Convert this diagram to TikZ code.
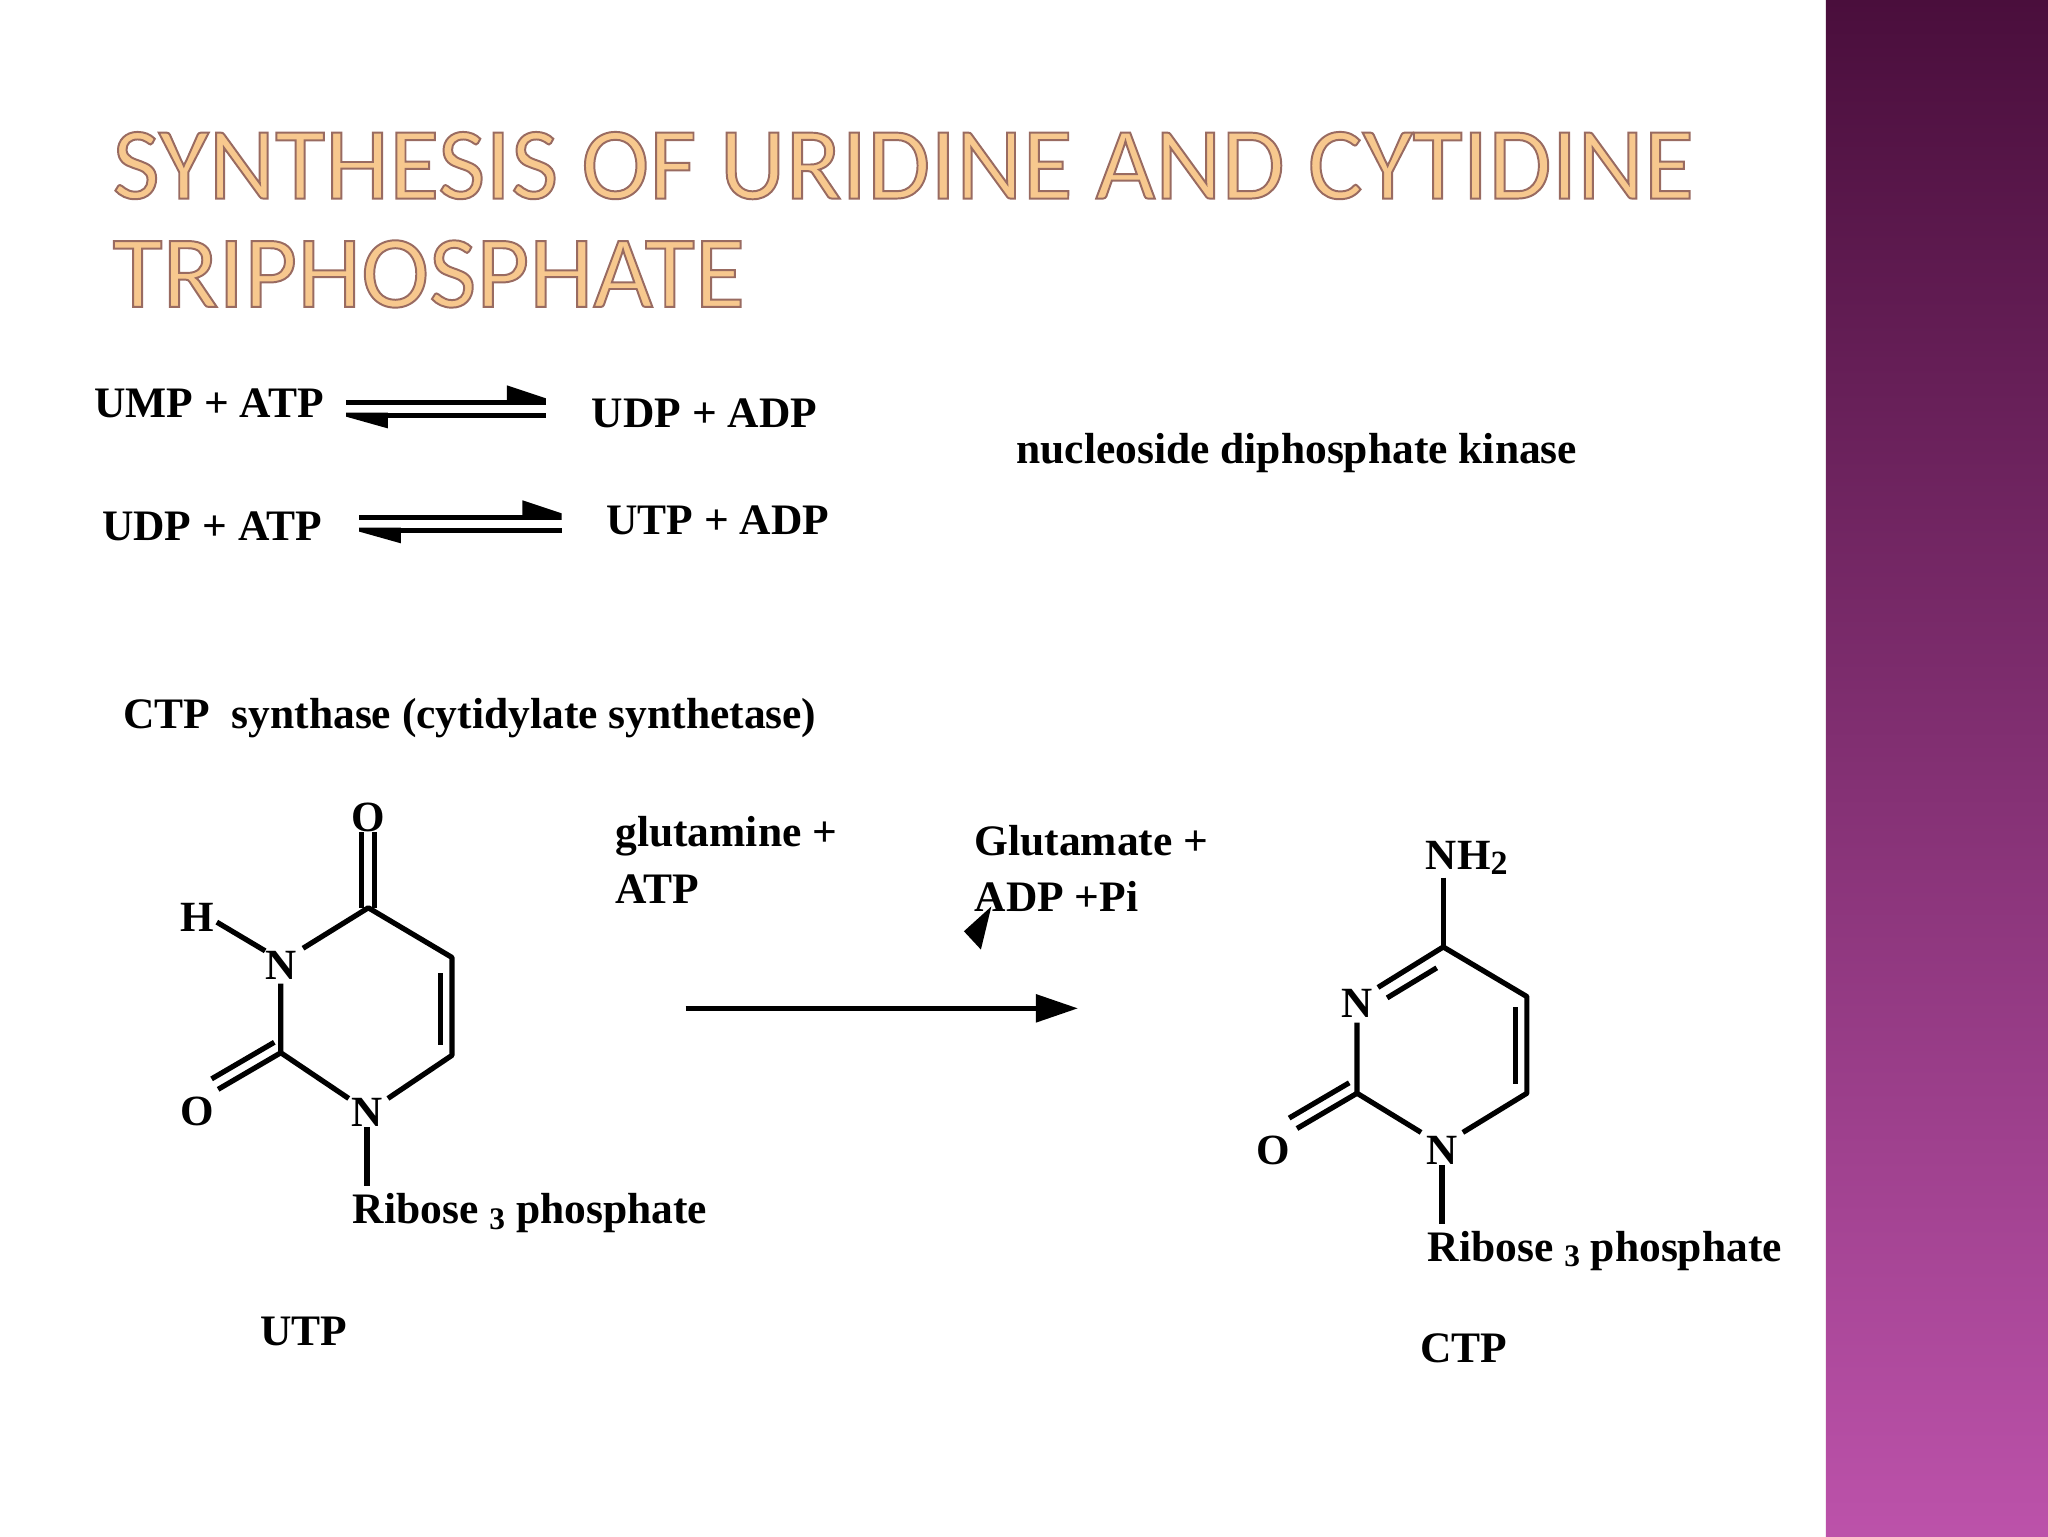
\documentclass[tikz,border=0pt]{standalone}
\usepackage{fontspec}
\usetikzlibrary{calc}
\setmainfont{Liberation Serif}
\newfontfamily\titlefont{Carlito}
\definecolor{peach}{HTML}{F7C88E}
\definecolor{outl}{HTML}{9A6A60}
\definecolor{bartop}{HTML}{4A0E3C}
\definecolor{barbot}{HTML}{BC52AA}
\newcommand{\outlined}[1]{\special{pdf:literal direct 2 Tr 1.5 w 0.60 0.42 0.38 RG}#1\special{pdf:literal direct 0 Tr}}
\begin{document}
\begin{tikzpicture}[x=1pt,y=-1pt,
  lbl/.style={anchor=base west,inner sep=0pt,font=\fontsize{33.3}{40}\selectfont\bfseries},
  atom/.style={inner sep=0pt,font=\fontsize{33}{40}\selectfont\bfseries},
  ttl/.style={anchor=base west,inner sep=0pt,text=peach,font=\fontsize{78.6}{90}\selectfont\titlefont},
  bond/.style={line width=4pt},
  halfarrow/.style={line width=3.5pt}]
\useasboundingbox (0,0) rectangle (1568,1176);
\fill[white] (0,0) rectangle (1398,1176);
\shade[top color=bartop,bottom color=barbot] (1398,0) rectangle (1568,1176);
% title
\node[ttl] (t1) at (86,152) {\outlined{SYNTHESIS OF URIDINE AND CYTIDINE}};
\node[ttl] (t2) at (86,235) {\outlined{TRIPHOSPHATE}};
% equilibria
\node[lbl] (r1a) at (72,320) {UMP + ATP};
\node[lbl] (r1b) at (453,327) {UDP + ADP};
\node[lbl] (enz) at (778,355) {nucleoside diphosphate kinase};
\node[lbl] (r2a) at (78,414) {UDP + ATP};
\node[lbl] (r2b) at (464,409) {UTP + ADP};
\coordinate (a1s) at (265,308); \coordinate (a1e) at (395,308);
\coordinate (b1s) at (290,318); \coordinate (b1e) at (418,318);
\draw[halfarrow] (a1s) -- (a1e);
\fill (388,295) -- (418,305) -- (418,310) -- (388,310) -- cycle;
\draw[halfarrow] (b1e) -- (b1s);
\fill (297,328) -- (265,319) -- (265,316) -- (297,316) -- cycle;
\coordinate (a2s) at (275,396); \coordinate (a2e) at (405,396);
\coordinate (b2s) at (300,406); \coordinate (b2e) at (430,406);
\draw[halfarrow] (a2s) -- (a2e);
\fill (400,383) -- (430,393) -- (430,398) -- (400,398) -- cycle;
\draw[halfarrow] (b2e) -- (b2s);
\fill (307,416) -- (275,407) -- (275,404) -- (307,404) -- cycle;
% CTP synthase
\node[lbl] (syn) at (94,558) {CTP\ \ synthase (cytidylate synthetase)};
\node[lbl] (glnA) at (471,648) {glutamine +};
\node[lbl] (glnB) at (471,692) {ATP};
\node[lbl] (gluA) at (746,655) {Glutamate +};
\node[lbl] (gluB) at (746,698) {ADP +Pi};
\fill (759,694) -- (738,713) -- (751,727) -- cycle;
\coordinate (ms) at (525,772); \coordinate (me) at (825,772);
\draw[line width=4pt] (ms) -- (795,772);
\fill (793,761) -- (me) -- (793,783) -- cycle;
% UTP ring
\node[atom] (uO4) at (282,626) {O};
\node[atom] (uH) at (151,702) {H};
\node[atom] (uN3) at (215,739) {N};
\node[atom] (uO2) at (151,851) {O};
\node[atom] (uN1) at (281,852) {N};
\coordinate (uC4) at (282,695);
\coordinate (uC5) at (346,733);
\coordinate (uC6) at (346,808);
\coordinate (uC2) at (215,806);
\coordinate (uR) at (281,908);
\draw[bond] ($(uO4.south)+(-5,0)$) -- ($(uC4)+(-5,0)$);
\draw[bond] ($(uO4.south)+(5,0)$) -- ($(uC4)+(5,0)$);
\draw[bond,line join=round] ($(uN3)+(17,-13)$) -- (uC4) -- (uC5) -- (uC6) -- ($(uN1)+(16,-11)$);
\draw[bond] (337,745) -- (337,800);
\draw[bond,line join=round] ($(uN1)+(-14,-11)$) -- (uC2) -- ($(uN3)+(0,14)$);
\draw[bond] ($(uH)+(15,4)$) -- ($(uN3)+(-12,-11)$);
\draw[bond] (uC2) -- (167,834);
\draw[bond] (210,798) -- (162,826);
\draw[bond] (uN1.south) -- (uR);
\node[lbl] (uRib) at (270,937) {Ribose {\fontsize{24}{28}\selectfont\raisebox{-4pt}{3}} phosphate};
\node[lbl] (uName) at (199,1030) {UTP};
% CTP ring
\node[atom] (cNH) at (1123,657) {NH\raisebox{-4pt}{\fontsize{26}{30}\selectfont 2}};
\node[atom] (cN3) at (1039,768) {N};
\node[atom] (cO2) at (975,881) {O};
\node[atom] (cN1) at (1104,881) {N};
\coordinate (cC4) at (1105,725);
\coordinate (cC5) at (1169,763);
\coordinate (cC6) at (1169,837);
\coordinate (cC2) at (1039,837);
\coordinate (cR) at (1104,937);
\draw[bond] (1105,672) -- (cC4);
\draw[bond,line join=round] (1055,756) -- (cC4) -- (cC5) -- (cC6) -- (1120,867);
\draw[bond] (1062,764) -- (1100,741);
\draw[bond] (1160,771) -- (1160,830);
\draw[bond,line join=round] (1088,867) -- (cC2) -- (1039,783);
\draw[bond] (cC2) -- (993,864);
\draw[bond] (1033,829) -- (987,856);
\draw[bond] (cN1.south) -- (cR);
\node[lbl] (cRib) at (1093,966) {Ribose {\fontsize{24}{28}\selectfont\raisebox{-4pt}{3}} phosphate};
\node[lbl] (cName) at (1087,1043) {CTP};
\end{tikzpicture}
\end{document}
